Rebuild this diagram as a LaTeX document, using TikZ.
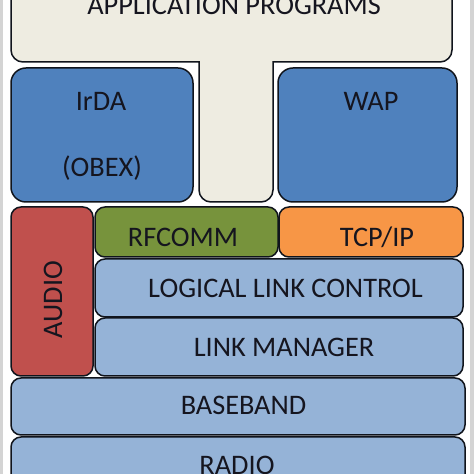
\documentclass[tikz,border=0pt]{standalone}
\usepackage{fontspec}
\setmainfont{Carlito}
\definecolor{appfill}{HTML}{EEECE1}
\definecolor{dblue}{HTML}{4F81BD}
\definecolor{lblue}{HTML}{95B3D7}
\definecolor{bred}{HTML}{C0504D}
\definecolor{bgreen}{HTML}{77933C}
\definecolor{borange}{HTML}{F79646}
\definecolor{edge}{HTML}{10141C}
\definecolor{txt}{HTML}{15151F}
\definecolor{sidegray}{HTML}{D4D4D4}
\begin{document}
\begin{tikzpicture}[x=1pt,y=1pt,
  layer/.style={draw=edge, line width=1.5pt, rounded corners=10pt, inner sep=0pt},
  lbl/.style={anchor=base, text=txt, inner sep=0pt, font=\fontsize{28.3}{34}\selectfont}]
\useasboundingbox (0,0) rectangle (474,474);
\fill[white] (0,0) rectangle (474,474);
\fill[sidegray] (0,0) rectangle (3,474);
\fill[sidegray] (470,0) rectangle (474,474);
% application programs T shape
\draw[fill=appfill, draw=edge, line width=1.5pt]
  (11,520) -- (11,424) arc[start angle=180,end angle=270,radius=12]
  -- (199,412) -- (199,284) arc[start angle=180,end angle=270,radius=12]
  -- (261,272) arc[start angle=270,end angle=360,radius=12]
  -- (273,412) -- (440,412) arc[start angle=270,end angle=360,radius=12]
  -- (452,520) -- cycle;
\node[lbl] (tapp) at (234,459) {APPLICATION PROGRAMS};
% boxes
\node[layer, rounded corners=15pt, fill=dblue, minimum width=182pt, minimum height=134pt] (irda) at (102,339) {};
\node[layer, rounded corners=15pt, fill=dblue, minimum width=179pt, minimum height=134pt] (wap) at (367.5,339) {};
\node[layer, fill=bred, minimum width=82pt, minimum height=169pt] (audio) at (52,182.5) {};
\node[layer, fill=bgreen, minimum width=183pt, minimum height=50pt] (rfcomm) at (186.5,242) {};
\node[layer, fill=borange, minimum width=184pt, minimum height=50pt] (tcpip) at (371,242) {};
\node[layer, fill=lblue, minimum width=368pt, minimum height=58pt] (llc) at (279,186) {};
\node[layer, fill=lblue, minimum width=368pt, minimum height=58pt] (lm) at (279,127) {};
\node[layer, fill=lblue, minimum width=454pt, minimum height=57pt] (bb) at (238,67.5) {};
\node[layer, fill=lblue, minimum width=454pt, minimum height=58pt] (radio) at (238,8) {};
% labels
\node[lbl] (tirda) at (101,363) {IrDA};
\node[lbl] (tobex) at (102,297) {(OBEX)};
\node[lbl] (twap) at (371,363) {WAP};
\node[lbl] (trf) at (183,227) {RFCOMM};
\node[lbl] (ttcp) at (377,227) {TCP/IP};
\node[lbl] (tllc) at (285.5,176) {LOGICAL LINK CONTROL};
\node[lbl] (tlm) at (284,117) {LINK MANAGER};
\node[lbl] (tbb) at (243.5,59) {BASEBAND};
\node[lbl] (tradio) at (237,-1) {RADIO};
\node[lbl, rotate=90] (taudio) at (62,174.5) {AUDIO};
\end{tikzpicture}
\end{document}
